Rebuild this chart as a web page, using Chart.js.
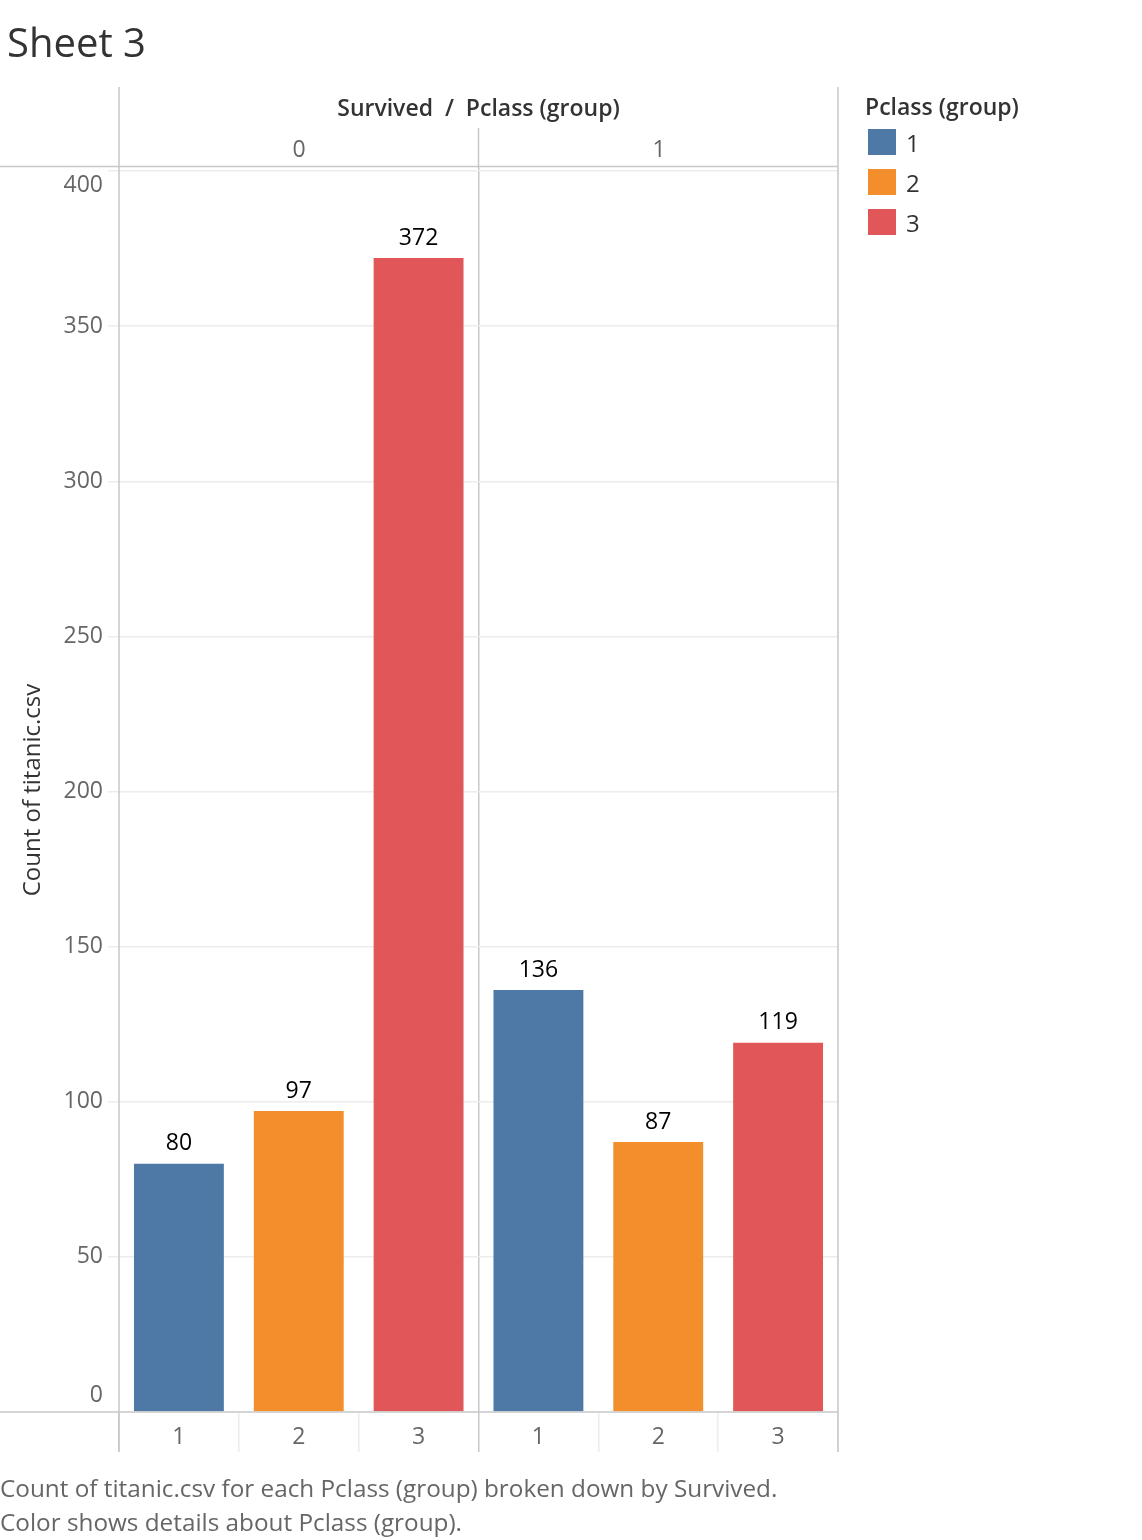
<!DOCTYPE html>
<html>
<head>
<meta charset="utf-8">
<script src="https://cdn.jsdelivr.net/npm/chart.js@4.4.1/dist/chart.umd.min.js"></script>
<style>
  html, body { margin:0; padding:0; background:#fff; }
  body { width:1142px; height:1540px; position:relative; overflow:hidden; font-family:"Open Sans", sans-serif; }
  #c { position:absolute; left:0; top:0; }
  .t { position:absolute; white-space:nowrap; }
  #title { left:7px; top:15px; font-size:40px; color:#333; line-height:54px; }
  #hdr { left:119px; width:719px; top:92px; text-align:center; font-size:23px; font-weight:600; color:#333; line-height:30px; }
  .ph { top:133px; width:360px; text-align:center; font-size:23px; color:#666; line-height:30px; }
  #cap { left:0px; top:1471px; font-size:24.3px; color:#666; line-height:34px; }
  #legend { position:absolute; left:865px; top:90px; }
  #legend .lt { font-size:23px; font-weight:600; color:#333; line-height:32px; margin-bottom:0px; }
  #legend .li { height:40px; display:flex; align-items:center; }
  #legend .sw { width:28px; height:26px; margin-left:3px; margin-right:10px; }
  #legend .ll { font-size:24px; color:#333; }
</style>
</head>
<body>
<canvas id="c" width="1142" height="1540"></canvas>
<div class="t" id="title">Sheet 3</div>
<div class="t" id="hdr">Survived&nbsp; / &nbsp;Pclass (group)</div>
<div class="t ph" style="left:119px">0</div>
<div class="t ph" style="left:479px">1</div>
<div id="legend"></div>
<div class="t" id="cap">Count of titanic.csv for each Pclass (group) broken down by Survived.<br>Color shows details about Pclass (group).</div>
<script>
// ---- data ----
const survivedGroups = ['0', '1'];
const pclassLabels = ['1', '2', '3'];
const xLabels = ['1', '2', '3', '1', '2', '3'];
const barClass = [0, 1, 2, 0, 1, 2];
const counts = [80, 97, 372, 136, 87, 119];
const classColors = ['#4e79a7', '#f28e2b', '#e15759'];
const yTicks = [0, 50, 100, 150, 200, 250, 300, 350, 400];
const legendTitle = 'Pclass (group)';
const yTitle = 'Count of titanic.csv';

// legend (HTML)
const lg = document.getElementById('legend');
const lt = document.createElement('div'); lt.className = 'lt'; lt.textContent = legendTitle; lg.appendChild(lt);
pclassLabels.forEach((l, i) => {
  const row = document.createElement('div'); row.className = 'li';
  const sw = document.createElement('div'); sw.className = 'sw'; sw.style.background = classColors[i];
  const tx = document.createElement('div'); tx.className = 'll'; tx.textContent = l;
  row.appendChild(sw); row.appendChild(tx); lg.appendChild(row);
});

const LINE = '#c8c8c8';
const GRID = '#ececec';
const FONT = '"Open Sans", sans-serif';

const framePlugin = {
  id: 'frame',
  afterDraw(chart) {
    const ctx = chart.ctx, a = chart.chartArea;
    const xs = chart.scales.x;
    const mid = (xs.getPixelForValue(2) + xs.getPixelForValue(3)) / 2;
    ctx.save();
    ctx.strokeStyle = LINE; ctx.lineWidth = 1.5;
    ctx.beginPath();
    ctx.moveTo(0, a.top - 1.5); ctx.lineTo(a.right, a.top - 1.5);
    ctx.moveTo(0, a.bottom); ctx.lineTo(a.right, a.bottom);
    ctx.moveTo(a.left, 87); ctx.lineTo(a.left, a.bottom + 40);
    ctx.moveTo(a.right, 87); ctx.lineTo(a.right, a.bottom + 40);
    ctx.moveTo(mid, 128); ctx.lineTo(mid, a.top);
    ctx.stroke();
    ctx.fillStyle = '#000';
    ctx.font = '23px ' + FONT;
    ctx.textAlign = 'center'; ctx.textBaseline = 'middle';
    chart.getDatasetMeta(0).data.forEach((bar, i) => {
      ctx.fillText(String(counts[i]), bar.x, bar.y - 20);
    });
    ctx.restore();
  }
};

new Chart(document.getElementById('c'), {
  type: 'bar',
  data: {
    labels: xLabels,
    datasets: [{
      data: counts,
      backgroundColor: barClass.map(c => classColors[c]),
      borderWidth: 0,
      barPercentage: 0.75,
      categoryPercentage: 1.0
    }]
  },
  options: {
    responsive: false,
    animation: false,
    events: [],
    layout: { padding: { left: 0, top: 168, right: 304, bottom: 88 } },
    plugins: { legend: { display: false }, tooltip: { enabled: false } },
    scales: {
      x: {
        grid: {
          offset: true,
          drawOnChartArea: true,
          color: ctx => ctx.index === 3 ? LINE : 'rgba(0,0,0,0)',
          tickColor: ctx => (ctx.index === 3 || ctx.index === 0 || ctx.index === 6) ? LINE : GRID,
          tickLength: 40,
          lineWidth: 1.5
        },
        border: { display: false },
        ticks: { color: '#666', font: { family: FONT, size: 23 }, padding: -28, maxRotation: 0 },
        afterFit: s => { s.height = 40; }
      },
      y: {
        min: 0, max: 401,
        afterBuildTicks: s => { s.ticks = yTicks.map(v => ({ value: v })); },
        afterFit: s => { s.width = 119; },
        grid: {
          color: ctx => ctx.tick && ctx.tick.value === 0 ? 'rgba(0,0,0,0)' : GRID,
          tickColor: ctx => ctx.tick && ctx.tick.value === 0 ? 'rgba(0,0,0,0)' : GRID,
          drawTicks: true, tickLength: 11, lineWidth: 1.5
        },
        border: { display: false },
        ticks: {
          color: '#666',
          padding: 5,
          font: ctx => {
            const v = ctx.tick ? ctx.tick.value : -1;
            return { family: FONT, size: 23, lineHeight: v === 400 ? '29px' : (v === 0 ? '34px' : 1.2) };
          },
          callback: v => v === 400 ? ['', '400'] : (v === 0 ? ['0', ''] : String(v))
        },
        title: { display: true, text: yTitle, color: '#333', font: { family: FONT, size: 24 }, padding: { top: 19, bottom: 0 } }
      }
    }
  },
  plugins: [framePlugin]
});
</script>
</body>
</html>
